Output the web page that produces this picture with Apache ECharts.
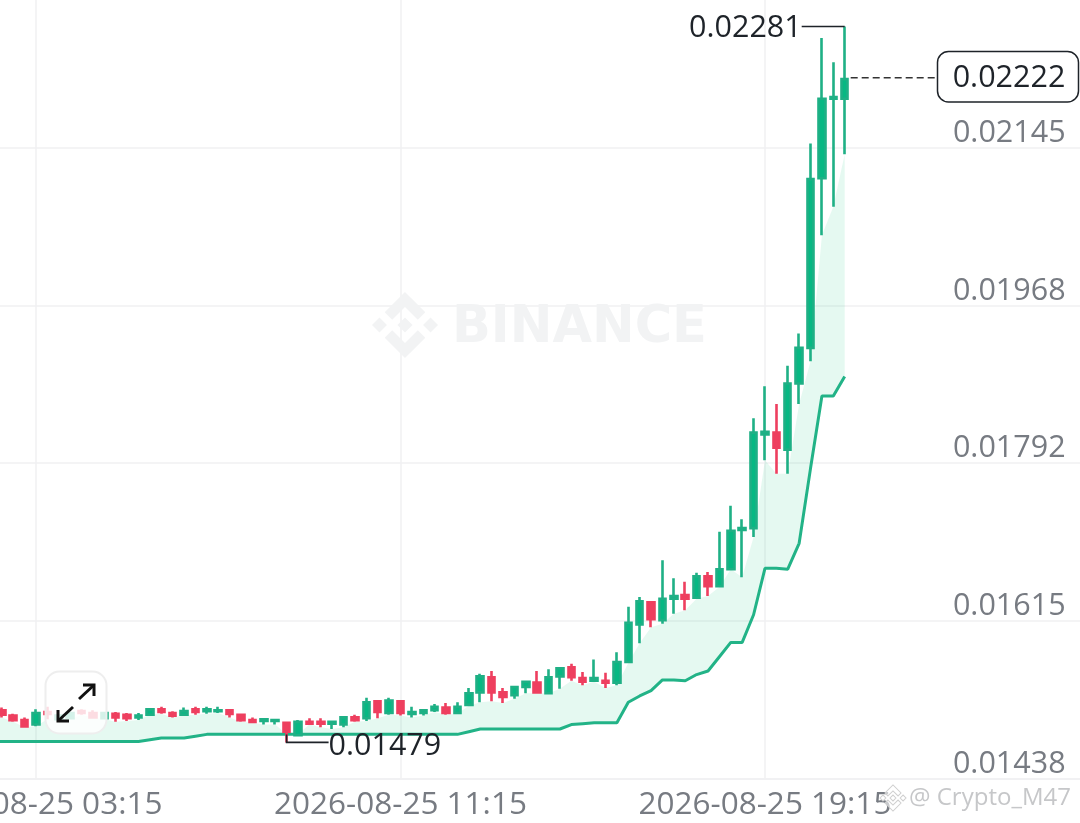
<!DOCTYPE html>
<html>
<head>
<meta charset="utf-8">
<style>html,body{margin:0;padding:0;background:#fff;overflow:hidden}#c{width:1080px;height:823px}</style>
<script src="https://cdn.jsdelivr.net/npm/echarts@6/dist/echarts.min.js"></script>
</head>
<body>
<div id="c"></div>
<script>
// 15-minute bars, first bar at 02:15
const opens = [0.01518,0.01515,0.01509,0.01504,0.01499,0.01513,0.01505,0.01506,0.01514,0.01512,0.01506,0.01511,0.01510,0.01507,0.01510,0.01516,0.01512,0.01510,0.01516,0.01514,0.01514,0.01515,0.01510,0.01504,0.01503,0.01503,0.01501,0.01487,0.01502,0.01502,0.01500,0.01499,0.01507,0.01506,0.01525,0.01512,0.01525,0.01511,0.01512,0.01515,0.01518,0.01512,0.01521,0.01535,0.01552,0.01535,0.01532,0.01541,0.01546,0.01534,0.01553,0.01563,0.01551,0.01548,0.01548,0.01546,0.01569,0.01611,0.01636,0.01616,0.01640,0.01644,0.01641,0.01665,0.01654,0.01673,0.01717,0.01719,0.01824,0.01826,0.01807,0.01881,0.01921,0.02111,0.02200,0.02200];
const closes = [0.01514,0.01510,0.01504,0.01497,0.01512,0.01511,0.01509,0.01512,0.01512,0.01507,0.01512,0.01507,0.01506,0.01509,0.01516,0.01513,0.01509,0.01514,0.01513,0.01516,0.01515,0.01511,0.01504,0.01502,0.01505,0.01504,0.01491,0.01502,0.01500,0.01500,0.01502,0.01507,0.01504,0.01524,0.01513,0.01526,0.01512,0.01513,0.01515,0.01519,0.01512,0.01519,0.01534,0.01553,0.01535,0.01530,0.01541,0.01547,0.01535,0.01552,0.01562,0.01552,0.01547,0.01551,0.01546,0.01569,0.01613,0.01637,0.01617,0.01640,0.01643,0.01640,0.01665,0.01654,0.01673,0.01716,0.01719,0.01826,0.01827,0.01809,0.01881,0.01921,0.02110,0.02200,0.02202,0.02222];
const lows = [0.01512,0.01507,0.01502,0.01496,0.01497,0.01505,0.01504,0.01505,0.01510,0.01507,0.01505,0.01502,0.01503,0.01504,0.01510,0.01511,0.01507,0.01509,0.01510,0.01511,0.01512,0.01507,0.01502,0.01501,0.01499,0.01499,0.01479,0.01487,0.01499,0.01496,0.01494,0.01496,0.01502,0.01503,0.01506,0.01510,0.01509,0.01507,0.01509,0.01513,0.01510,0.01511,0.01520,0.01524,0.01525,0.01523,0.01528,0.01534,0.01534,0.01534,0.01539,0.01548,0.01543,0.01547,0.01540,0.01543,0.01568,0.01590,0.01608,0.01612,0.01623,0.01627,0.01640,0.01643,0.01653,0.01673,0.01664,0.01709,0.01795,0.01780,0.01780,0.01858,0.01906,0.02047,0.02079,0.02138];
const highs = [0.01520,0.01518,0.01511,0.01507,0.01516,0.01519,0.01510,0.01513,0.01516,0.01515,0.01513,0.01513,0.01512,0.01512,0.01516,0.01519,0.01514,0.01518,0.01519,0.01519,0.01519,0.01516,0.01511,0.01507,0.01505,0.01504,0.01501,0.01504,0.01506,0.01506,0.01502,0.01507,0.01510,0.01529,0.01526,0.01529,0.01526,0.01519,0.01516,0.01522,0.01523,0.01524,0.01540,0.01556,0.01559,0.01540,0.01542,0.01547,0.01559,0.01561,0.01562,0.01567,0.01558,0.01572,0.01557,0.01580,0.01631,0.01642,0.01636,0.01683,0.01663,0.01659,0.01669,0.01670,0.01715,0.01744,0.01729,0.01842,0.01878,0.01858,0.01901,0.01937,0.02150,0.02268,0.02241,0.02281];
const support = [0.01480,0.01480,0.01480,0.01480,0.01480,0.01480,0.01480,0.01480,0.01480,0.01480,0.01480,0.01480,0.01480,0.01480,0.01482,0.01484,0.01484,0.01484,0.01486,0.01488,0.01488,0.01488,0.01488,0.01488,0.01488,0.01488,0.01488,0.01488,0.01488,0.01488,0.01488,0.01488,0.01488,0.01488,0.01488,0.01488,0.01488,0.01488,0.01488,0.01488,0.01488,0.01488,0.01491,0.01494,0.01494,0.01494,0.01494,0.01494,0.01494,0.01494,0.01494,0.01499,0.01500,0.01501,0.01501,0.01501,0.01524,0.01531,0.01537,0.01549,0.01549,0.01548,0.01555,0.01559,0.01575,0.01591,0.01591,0.01622,0.01674,0.01674,0.01673,0.01702,0.01786,0.01867,0.01867,0.01889];
const yTicks = [0.01438,0.01615,0.01792,0.01968,0.02145];
const yMin = 0.01438, yMax = 0.0231067;
const lastPrice = 0.02222, periodHigh = 0.02281, periodLow = 0.01479;
const watermarkText = 'BINANCE', creditText = '@ Crypto_M47';

const BAND = 11.39, BAR_SLOTS = 97;
const categories = [];
for (let i = 0; i < BAR_SLOTS; i++) {
  const m = 2 * 60 + 15 + i * 15;
  const day = m >= 1440 ? '26' : '25';
  const h = String(Math.floor(m / 60) % 24).padStart(2, '0');
  const mm = String(m % 60).padStart(2, '0');
  categories.push('2026-08-' + day + ' ' + h + ':' + mm);
}
const isLabelled = i => i % 32 === 4;
const ohlc = opens.map((o, i) => [o, closes[i], lows[i], highs[i]]);
const bandHeight = lows.map((l, i) => Math.max(0, +(l - support[i]).toFixed(5)));

const GREEN = '#07b883', GREEN_WICK = '#1fb085', RED = '#ee3f5f', LABEL = '#777b82', INK = '#1e2329', GRID = '#f0f1f2';
const FONT = '"Open Sans", sans-serif';
const logoPolys = [
  [[38.73,53.2],[63.3,28.63],[87.88,53.21],[102.18,38.91],[63.3,0.03],[24.43,38.9]],
  [[0,63.3],[14.3,49],[28.6,63.3],[14.3,77.6]],
  [[38.73,73.41],[63.3,97.98],[87.88,73.4],[102.18,87.7],[63.3,126.58],[24.43,87.71]],
  [[98.01,63.31],[112.31,49],[126.61,63.3],[112.31,77.61]],
  [[77.8,63.3],[63.3,48.8],[48.81,63.29],[63.3,77.8]]
];
const logo = (x, y, size, style, z) => ({
  type: 'group', x, y, scaleX: size / 126.61, scaleY: size / 126.61, z, silent: true,
  children: logoPolys.map(points => ({type: 'polygon', z, silent: true, shape: {points}, style}))
});

const chart = echarts.init(document.getElementById('c'), null, {renderer: 'canvas', width: 1080, height: 823});
chart.setOption({
  animation: false,
  backgroundColor: '#fff',
  grid: {left: -15.25, top: 0, width: BAND * BAR_SLOTS, height: 779, containLabel: false, outerBoundsMode: 'none'},
  xAxis: {
    type: 'category', data: categories, boundaryGap: true,
    axisLine: {show: true, lineStyle: {color: GRID, width: 1.5}},
    axisTick: {show: false, alignWithLabel: true, interval: isLabelled},
    axisLabel: {interval: isLabelled, color: LABEL, fontFamily: FONT, fontSize: 31.5, margin: 10, hideOverlap: false},
    splitLine: {show: true, alignWithLabel: true, interval: isLabelled, lineStyle: {color: GRID, width: 1.5}}
  },
  yAxis: {
    type: 'value', position: 'right', min: yMin, max: yMax, scale: true,
    axisLine: {show: false}, axisTick: {show: false, customValues: yTicks},
    axisLabel: {inside: true, customValues: yTicks, color: LABEL, fontFamily: FONT, fontSize: 30.5, margin: 24,
      verticalAlign: 'bottom', lineHeight: 30, align: 'right', showMinLabel: true, showMaxLabel: true,
      formatter: v => v.toFixed(5)},
    splitLine: {show: true, lineStyle: {color: GRID, width: 1.5}}
  },
  series: [
    {type: 'line', data: support, stack: 'band', symbol: 'none', z: 2,
     lineStyle: {color: '#22b387', width: 3}},
    {type: 'line', data: bandHeight, stack: 'band', symbol: 'none', z: 1,
     lineStyle: {width: 0, opacity: 0}, areaStyle: {color: 'rgba(14,203,129,0.11)', opacity: 1}},
    {type: 'candlestick', data: ohlc, barWidth: 7, z: 3,
     itemStyle: {color: GREEN, color0: RED, borderColor: GREEN_WICK, borderColor0: RED, borderWidth: 2.6}}
  ]
});

const px = (i, v) => chart.convertToPixel({xAxisIndex: 0, yAxisIndex: 0}, [i, v]);
const hi = px(75, periodHigh), lo = px(26, periodLow), last = px(75, lastPrice);
const stroke = (w, c, extra) => Object.assign({stroke: c, lineWidth: w, fill: null}, extra || {});
const tagFont = '30.5px "Open Sans", sans-serif';
chart.setOption({
  graphic: [
    logo(372, 292, 66, {fill: '#f2f3f4'}, 0),
    {type: 'text', z: 0, silent: true, x: 452, y: 329, style: {text: watermarkText, fill: '#f2f3f4', font: 'bold 51px "DejaVu Sans", sans-serif', textVerticalAlign: 'middle'}},
    // period high / low labels
    {type: 'polyline', z: 10, shape: {points: [[hi[0], hi[1]], [hi[0] - 43, hi[1]]]}, style: stroke(1.6, INK)},
    {type: 'text', z: 10, x: hi[0] - 43, y: hi[1] + 1.5, style: {text: periodHigh.toFixed(5), fill: INK, font: tagFont, textAlign: 'right', textVerticalAlign: 'middle'}},
    {type: 'polyline', z: 10, shape: {points: [[lo[0], lo[1] - 8], [lo[0], lo[1]], [lo[0] + 42, lo[1]]]}, style: stroke(1.6, INK)},
    {type: 'text', z: 10, x: lo[0] + 42, y: lo[1] + 4, style: {text: periodLow.toFixed(5), fill: INK, font: tagFont, textAlign: 'left', textVerticalAlign: 'middle'}},
    // last price tag
    {type: 'line', z: 10, shape: {x1: last[0] + 6, y1: last[1] - 1.5, x2: 937, y2: last[1] - 1.5}, style: stroke(1.5, '#333', {lineDash: [7, 4]})},
    {type: 'rect', z: 10, shape: {x: 937.5, y: 51.5, width: 141, height: 50.5, r: 11}, style: {fill: '#fff', stroke: INK, lineWidth: 1.5}},
    {type: 'text', z: 11, x: 1009, y: 78, style: {text: lastPrice.toFixed(5), fill: INK, font: tagFont, textAlign: 'center', textVerticalAlign: 'middle'}},
    // expand button
    {type: 'rect', z: 12, shape: {x: 45.5, y: 671.5, width: 61, height: 62, r: 14}, style: {fill: 'rgba(255,255,255,0.82)', stroke: '#eeeeee', lineWidth: 2}},
    {type: 'polyline', z: 13, shape: {points: [[79, 699], [94, 685]]}, style: stroke(3, '#111')},
    {type: 'polyline', z: 13, shape: {points: [[83, 685], [94, 685], [94, 696]]}, style: stroke(3, '#111')},
    {type: 'polyline', z: 13, shape: {points: [[73, 707], [58, 721]]}, style: stroke(3, '#111')},
    {type: 'polyline', z: 13, shape: {points: [[58, 710], [58, 721], [69, 721]]}, style: stroke(3, '#111')},
    // credit
    logo(880, 785, 26, {fill: 'rgba(255,255,255,0.6)', stroke: '#cfcfcf', lineWidth: 5}, 14),
    {type: 'text', z: 14, silent: true, x: 909, y: 798, style: {text: creditText, fill: '#c6c7c9', font: '24px "Open Sans", sans-serif', textVerticalAlign: 'middle'}}
  ]
});
</script>
</body>
</html>
